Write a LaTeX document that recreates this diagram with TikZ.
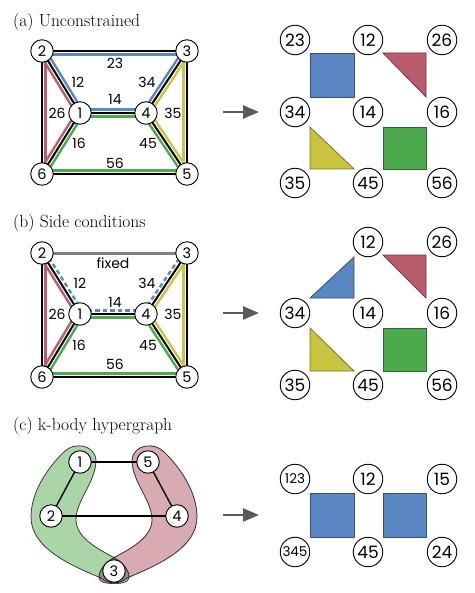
\documentclass[tikz,border=0pt]{standalone}
\usepackage{fontspec}
\newfontfamily\labfont{Poppins}
\usetikzlibrary{calc,arrows.meta}
\definecolor{cblue}{RGB}{88,136,198}
\definecolor{cred}{RGB}{188,92,108}
\definecolor{cyel}{RGB}{202,198,66}
\definecolor{cgreen}{RGB}{76,170,76}
\definecolor{fblue}{RGB}{90,134,196}
\definecolor{fred}{RGB}{186,92,108}
\definecolor{fyel}{RGB}{200,196,64}
\definecolor{fgreen}{RGB}{76,170,76}
\definecolor{fixgray}{RGB}{128,128,128}
\definecolor{arrgray}{RGB}{90,90,90}
\definecolor{bandg}{RGB}{170,213,166}
\definecolor{bandr}{RGB}{216,170,178}
\definecolor{bandline}{RGB}{70,55,55}
\pgfdeclarelayer{back}
\pgfdeclarelayer{bg}
\pgfsetlayers{back,bg,main}
\newcommand\offedge[3]{\draw[cline,#1] ($(#2.center)!3.5pt!90:(#3.center)$) -- ($(#3.center)!3.5pt!-90:(#2.center)$);}
\begin{document}
\begin{tikzpicture}[x=1pt,y=-1pt,
  vtx/.style={circle,draw,line width=0.9pt,fill=white,minimum size=22.5pt,inner sep=0pt,font=\labfont\fontsize{14.5}{14.5}\selectfont},
  rv/.style={circle,draw,line width=0.9pt,fill=white,minimum size=29.5pt,inner sep=0pt,font=\labfont\fontsize{17}{17}\selectfont},
  rvs/.style={rv,font=\labfont\fontsize{13.5}{13.5}\selectfont},
  elab/.style={inner sep=0pt,font=\labfont\fontsize{14}{14}\selectfont},
  bline/.style={line width=2pt,black},
  cline/.style={line width=2.4pt},
  fixline/.style={line width=3pt,fixgray},
  thinedge/.style={line width=1.4pt,black},
  ptitle/.style={anchor=base west,inner sep=0pt,font=\fontsize{17.5}{17.5}\selectfont},
  arr/.style={-{Triangle[length=16pt,width=13pt]},line width=2.6pt,draw=arrgray},
  shp/.style={line width=0.8pt},
  band/.style={line width=0.8pt,draw=bandline}
]
\useasboundingbox (0,0) rectangle (474,593);

% ---------------- (a)
\node[ptitle] (ta) at (13,27) {(a) Unconstrained};
\node[vtx] (a2) at (42,51) {2};
\node[vtx] (a3) at (187,51) {3};
\node[vtx] (a1) at (80,113) {1};
\node[vtx] (a4) at (146,113) {4};
\node[vtx] (a6) at (42,174) {6};
\node[vtx] (a5) at (187,174) {5};
\begin{pgfonlayer}{bg}
\foreach \u/\v in {a2/a3,a2/a1,a2/a6,a1/a4,a1/a6,a3/a4,a3/a5,a4/a5,a6/a5}
  \draw[bline] (\u.center) -- (\v.center);
\offedge{cblue}{a2}{a1}\offedge{cblue}{a1}{a4}\offedge{cblue}{a4}{a3}\offedge{cblue}{a3}{a2}
\offedge{cred}{a2}{a6}\offedge{cred}{a6}{a1}\offedge{cred}{a1}{a2}
\offedge{cgreen}{a1}{a6}\offedge{cgreen}{a6}{a5}\offedge{cgreen}{a5}{a4}\offedge{cgreen}{a4}{a1}
\offedge{cyel}{a3}{a4}\offedge{cyel}{a4}{a5}\offedge{cyel}{a5}{a3}
\end{pgfonlayer}
\node[elab] (la23) at (115,63) {23};
\node[elab] (la12) at (78,82) {12};
\node[elab] (la34) at (147,82) {34};
\node[elab] (la14) at (115,99) {14};
\node[elab] (la26) at (57,113) {26};
\node[elab] (la35) at (173,113) {35};
\node[elab] (la16) at (79,143) {16};
\node[elab] (la45) at (148,143) {45};
\node[elab] (la56) at (115,163) {56};
\coordinate (arA1) at (223,112);
\coordinate (arA2) at (259,112);
\draw[arr] (arA1) -- (arA2);
\fill[shp,fill=fblue,draw=fblue!60!black] (310,53) rectangle (354,97);
\fill[shp,fill=fred,draw=fred!60!black] (383,53) -- (426,53) -- (426,97) -- cycle;
\fill[shp,fill=fyel,draw=fyel!60!black] (310,127) -- (310,169) -- (354,169) -- cycle;
\fill[shp,fill=fgreen,draw=fgreen!60!black] (383,127) rectangle (426,169);
\node[rv] (ra23) at (295,40) {23};
\node[rv] (ra12) at (368,40) {12};
\node[rv] (ra26) at (442,40) {26};
\node[rv] (ra34) at (295,112) {34};
\node[rv] (ra14) at (368,112) {14};
\node[rv] (ra16) at (442,112) {16};
\node[rv] (ra35) at (295,183) {35};
\node[rv] (ra45) at (368,183) {45};
\node[rv] (ra56) at (442,183) {56};

% ---------------- (b)
\node[ptitle] (tb) at (13,228) {(b) Side conditions};
\node[vtx] (b2) at (42,253) {2};
\node[vtx] (b3) at (187,253) {3};
\node[vtx] (b1) at (80,314) {1};
\node[vtx] (b4) at (146,314) {4};
\node[vtx] (b6) at (42,377) {6};
\node[vtx] (b5) at (187,377) {5};
\begin{pgfonlayer}{bg}
\draw[fixline] (b2.center) -- (b3.center);
\foreach \u/\v in {b2/b1,b2/b6,b1/b4,b1/b6,b3/b4,b3/b5,b4/b5,b6/b5}
  \draw[bline] (\u.center) -- (\v.center);
\offedge{cblue,dash pattern=on 4.5pt off 3pt}{b2}{b1}
\offedge{cblue,dash pattern=on 4.5pt off 3pt}{b1}{b4}
\offedge{cblue,dash pattern=on 4.5pt off 3pt}{b4}{b3}
\offedge{cred}{b2}{b6}\offedge{cred}{b6}{b1}\offedge{cred}{b1}{b2}
\offedge{cgreen}{b1}{b6}\offedge{cgreen}{b6}{b5}\offedge{cgreen}{b5}{b4}\offedge{cgreen}{b4}{b1}
\offedge{cyel}{b3}{b4}\offedge{cyel}{b4}{b5}\offedge{cyel}{b5}{b3}
\end{pgfonlayer}
\node[elab] (lbfx) at (113,263) {fixed};
\node[elab] (lb12) at (80,283) {12};
\node[elab] (lb34) at (147,283) {34};
\node[elab] (lb14) at (115,302) {14};
\node[elab] (lb26) at (57,314) {26};
\node[elab] (lb35) at (173,314) {35};
\node[elab] (lb16) at (79,345) {16};
\node[elab] (lb45) at (148,345) {45};
\node[elab] (lb56) at (115,364) {56};
\coordinate (arB1) at (223,313);
\coordinate (arB2) at (259,313);
\draw[arr] (arB1) -- (arB2);
\fill[shp,fill=fblue,draw=fblue!60!black] (310,298) -- (354,257) -- (354,298) -- cycle;
\fill[shp,fill=fred,draw=fred!60!black] (383,255) -- (426,255) -- (426,298) -- cycle;
\fill[shp,fill=fyel,draw=fyel!60!black] (310,328) -- (310,371) -- (354,371) -- cycle;
\fill[shp,fill=fgreen,draw=fgreen!60!black] (383,328) rectangle (426,371);
\node[rv] (rb12) at (368,242) {12};
\node[rv] (rb26) at (442,242) {26};
\node[rv] (rb34) at (295,313) {34};
\node[rv] (rb14) at (368,313) {14};
\node[rv] (rb16) at (442,313) {16};
\node[rv] (rb35) at (295,385) {35};
\node[rv] (rb45) at (368,385) {45};
\node[rv] (rb56) at (442,385) {56};

% ---------------- (c)
\node[ptitle] (tc) at (13,430) {(c) k-body hypergraph};
\begin{pgfonlayer}{back}
\filldraw[band,fill=bandg] (96,460) .. controls (96,482) and (76,500) .. (76,520)
  .. controls (76,538) and (100,550) .. (113,557)
  .. controls (125,563) and (133,576) .. (127,581)
  .. controls (121,585) and (107,584) .. (101,578)
  .. controls (70,565) and (31,548) .. (31,517)
  .. controls (31,488) and (53,462) .. (65,451)
  .. controls (73,443) and (94,443) .. (96,460) -- cycle;
\filldraw[band,fill=bandr,blend mode=multiply] (132,460) .. controls (132,482) and (152,500) .. (152,520)
  .. controls (152,538) and (128,550) .. (115,557)
  .. controls (103,563) and (95,576) .. (101,581)
  .. controls (107,585) and (121,584) .. (127,578)
  .. controls (158,565) and (197,548) .. (197,517)
  .. controls (197,488) and (175,462) .. (163,451)
  .. controls (155,443) and (134,443) .. (132,460) -- cycle;
\end{pgfonlayer}
\node[vtx] (c1) at (80,462) {1};
\node[vtx] (c5) at (148,462) {5};
\node[vtx] (c2) at (51,516) {2};
\node[vtx] (c4) at (177,516) {4};
\node[vtx] (c3) at (114,571) {3};
\begin{pgfonlayer}{bg}
\foreach \u/\v in {c1/c5,c2/c4,c1/c2,c5/c4}
  \draw[thinedge] (\u.center) -- (\v.center);
\end{pgfonlayer}
\coordinate (arC1) at (223,515);
\coordinate (arC2) at (259,515);
\draw[arr] (arC1) -- (arC2);
\fill[shp,fill=fblue,draw=fblue!60!black] (310,493) rectangle (354,537);
\fill[shp,fill=fblue,draw=fblue!60!black] (383,493) rectangle (426,537);
\node[rvs] (rc123) at (295,479) {123};
\node[rv] (rc12) at (368,479) {12};
\node[rv] (rc15) at (442,479) {15};
\node[rvs] (rc345) at (295,552) {345};
\node[rv] (rc45) at (368,552) {45};
\node[rv] (rc24) at (442,552) {24};
\end{tikzpicture}
\end{document}
